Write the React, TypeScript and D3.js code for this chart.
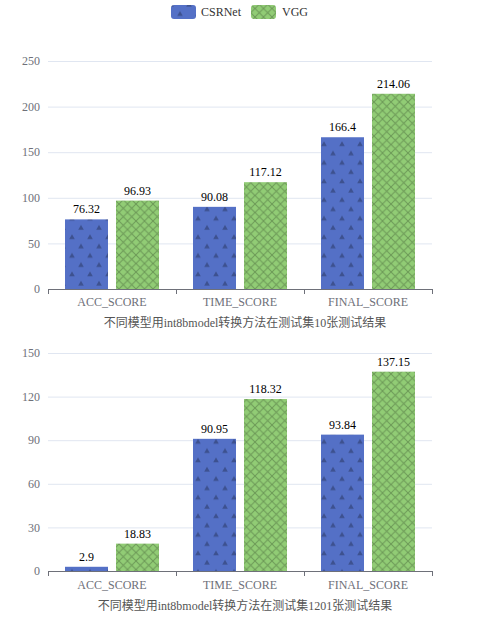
import React from "react";
import * as d3 from "d3";

const categories = ["ACC_SCORE", "TIME_SCORE", "FINAL_SCORE"];
const seriesNames = ["CSRNet", "VGG"];

const csrnet10 = [76.32, 90.08, 166.4];
const vgg10 = [96.93, 117.12, 214.06];
const ticks10 = [0, 50, 100, 150, 200, 250];
const title10 = "不同模型用int8bmodel转换方法在测试集10张测试结果";

const csrnet1201 = [2.9, 90.95, 93.84];
const vgg1201 = [18.83, 118.32, 137.15];
const ticks1201 = [0, 30, 60, 90, 120, 150];
const title1201 = "不同模型用int8bmodel转换方法在测试集1201张测试结果";

const FONT = "Liberation Serif, Noto Sans CJK SC, serif";
const AXIS = "#6E7079";
const GRID = "#E0E6F1";
const BLUE = "#5470c6";
const GREEN = "#91cc75";

const Patterns = () => (
  <defs>
    <pattern id="tri" patternUnits="userSpaceOnUse" width={18} height={18.6}>
      <rect width={18} height={18.6} fill={BLUE} />
      <path d="M9,1.8 L11.8,6.6 L6.2,6.6 Z" fill="rgba(0,0,0,0.28)" />
      <path d="M0,11.1 L2.8,15.9 L-2.8,15.9 Z M18,11.1 L20.8,15.9 L15.2,15.9 Z" fill="rgba(0,0,0,0.28)" />
    </pattern>
    <pattern id="cross" patternUnits="userSpaceOnUse" width={8.5} height={8.5}>
      <rect width={8.5} height={8.5} fill={GREEN} />
      <path d="M0,0 L8.5,8.5 M8.5,0 L0,8.5" stroke="rgba(0,0,0,0.25)" strokeWidth={1} />
    </pattern>
  </defs>
);

type ChartProps = {
  a: number[];
  b: number[];
  ticks: number[];
  title: string;
  y0: number; // pixel y of zero
  yTop: number; // pixel y of max tick
  catY: number;
  titleY: number;
};

const BarChart = ({ a, b, ticks, title, y0, yTop, catY, titleY }: ChartProps) => {
  const x = d3.scaleBand().domain(categories).range([48, 432]);
  // two bars of 43px with an 8px gap, 17px from each band edge
  const inner = d3.scaleBand().domain(seriesNames).range([17, x.bandwidth() - 17]).paddingInner(8 / 51);
  const y = d3.scaleLinear().domain([0, ticks[ticks.length - 1]]).range([y0, yTop]);
  const fills = ["url(#tri)", "url(#cross)"];
  const data = [a, b];
  return (
    <g style={{ fontFamily: FONT }}>
      {ticks.map((t) => (
        <g key={t}>
          {t > 0 && <line x1={48} x2={432} y1={y(t) + 0.5} y2={y(t) + 0.5} stroke={GRID} />}
          <text x={40} y={y(t)} dy="0.35em" textAnchor="end" fontSize={12} fill={AXIS}>{t}</text>
        </g>
      ))}
      {data.map((vals, si) =>
        vals.map((v, ci) => {
          const bx = (x(categories[ci]) || 0) + (inner(seriesNames[si]) || 0);
          return (
            <g key={`${si}-${ci}`}>
              <rect x={bx} y={y(v)} width={inner.bandwidth()} height={y0 - y(v)} fill={fills[si]} />
              <text x={bx + inner.bandwidth() / 2} y={y(v) - 6} textAnchor="middle" fontSize={12} fill="#000">{v}</text>
            </g>
          );
        })
      )}
      <line x1={48} x2={432} y1={y0 + 0.5} y2={y0 + 0.5} stroke={AXIS} />
      {[...categories.map((c) => x(c) || 0), 432].map((tx, i) => (
        <line key={i} x1={tx + 0.5} x2={tx + 0.5} y1={y0} y2={y0 + 5} stroke={AXIS} />
      ))}
      {categories.map((c) => (
        <text key={c} x={(x(c) || 0) + x.bandwidth() / 2} y={catY} dy="0.35em" textAnchor="middle" fontSize={12} fill={AXIS}>{c}</text>
      ))}
      <text x={245} y={titleY} dy="0.35em" textAnchor="middle" fontSize={12} fill="#555">{title}</text>
    </g>
  );
};

const App = () => {
  return (
    <svg width={480} height={642} style={{ position: "absolute", left: 0, top: 0, background: "#fff" }}>
      <Patterns />
      <g style={{ fontFamily: FONT }}>
        <rect x={171} y={5} width={25} height={14} rx={3} fill="url(#tri)" />
        <text x={201} y={12} dy="0.35em" fontSize={12} fill="#333">{seriesNames[0]}</text>
        <rect x={251} y={5} width={25} height={14} rx={3} fill="url(#cross)" />
        <text x={282} y={12} dy="0.35em" fontSize={12} fill="#333">{seriesNames[1]}</text>
      </g>
      <BarChart a={csrnet10} b={vgg10} ticks={ticks10} title={title10} y0={289} yTop={61} catY={302} titleY={323} />
      <BarChart a={csrnet1201} b={vgg1201} ticks={ticks1201} title={title1201} y0={571} yTop={353} catY={585} titleY={606} />
    </svg>
  );
};

export default App;
